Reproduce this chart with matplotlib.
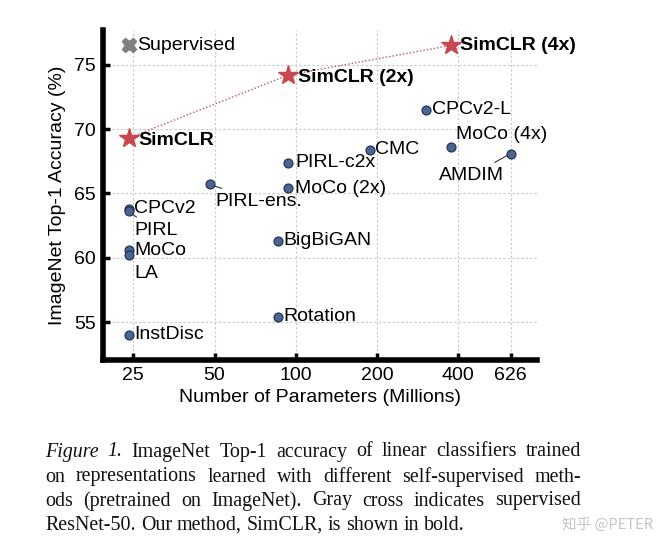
import matplotlib
matplotlib.use("Agg")
import matplotlib.pyplot as plt
import numpy as np

# ---- data ----
methods = ["CPCv2", "PIRL", "MoCo", "LA", "InstDisc", "PIRL-ens.", "PIRL-c2x",
           "MoCo (2x)", "BigBiGAN", "Rotation", "CMC", "CPCv2-L", "MoCo (4x)", "AMDIM"]
params = [24, 24, 24, 24, 24, 48, 94, 94, 86, 86, 188, 305, 375, 626]
acc = [63.8, 63.6, 60.6, 60.2, 54.0, 65.7, 67.4, 65.4, 61.3, 55.4, 68.4, 71.5, 68.6, 68.1]

simclr_names = ["SimCLR", "SimCLR (2x)", "SimCLR (4x)"]
simclr_params = [24, 94, 375]
simclr_acc = [69.3, 74.2, 76.5]

sup_name = "Supervised"
sup_params = 24
sup_acc = 76.5

xticks = [25, 50, 100, 200, 400, 626]
yticks = [55, 60, 65, 70, 75]

# label offsets in points (dx, dy) and whether a leader line is drawn
offsets = {
    "CPCv2": (4, 0, False), "PIRL": (4, -14, True), "MoCo": (4, 0, False),
    "LA": (4, -13, True), "InstDisc": (4, 0, False), "PIRL-ens.": (4, -12, True),
    "PIRL-c2x": (5, 0, False), "MoCo (2x)": (5, 0, False), "BigBiGAN": (4, 0, False),
    "Rotation": (4, 0, False), "CMC": (4, 0, False), "CPCv2-L": (4, 0, False),
    "MoCo (4x)": (4, 9, True), "AMDIM": (-5, -16, True),
}

plt.rcParams['font.family'] = ['Liberation Sans', 'DejaVu Sans']
FS = 14

fig = plt.figure(figsize=(6.59, 5.54), dpi=100)
ax = fig.add_axes([103/659, 1-360/554, (537-103)/659, (360-30)/554])

ax.set_xscale('log')
ax.set_xlim(19.3, 784)
ax.set_ylim(52.05, 77.7)

blue = '#4a6494'
edge = '#1f2d4a'
red = '#c9474f'

ax.plot(simclr_params, simclr_acc, linestyle=(0, (1, 1.5)), color='#b05a60', lw=1.0, zorder=2)
ax.plot(simclr_params, simclr_acc, linestyle='none', marker='*', markersize=15,
        color=red, markeredgecolor=red, zorder=4)
ax.plot([sup_params], [sup_acc], linestyle='none', marker='X', markersize=10.5,
        color='#808080', markeredgecolor='#808080', zorder=4)
ax.plot(params, acc, linestyle='none', marker='o', markersize=6.5,
        color=blue, markeredgecolor=edge, markeredgewidth=0.8, zorder=4)

for name, x, y in zip(methods, params, acc):
    dx, dy, line = offsets[name]
    ha = 'right' if dx < 0 else 'left'
    if line:
        ax.annotate(name, (x, y), xytext=(dx, dy), textcoords='offset points',
                    fontsize=FS, ha=ha, va='center',
                    arrowprops=dict(arrowstyle='-', color='#333333', lw=0.8,
                                    shrinkA=3, shrinkB=1))
    else:
        ax.annotate(name, (x, y), xytext=(dx, 0), textcoords='offset points',
                    fontsize=FS, ha=ha, va='center')

simclr_dy = [-1.5, -1.5, 0]
for name, x, y, d in zip(simclr_names, simclr_params, simclr_acc, simclr_dy):
    ax.annotate(name, (x, y), xytext=(7, d), textcoords='offset points',
                fontsize=FS, fontweight='bold', ha='left', va='center')
ax.annotate(sup_name, (sup_params, sup_acc), xytext=(6, 0), textcoords='offset points',
            fontsize=FS, ha='left', va='center')

ax.set_xticks(xticks)
ax.set_xticklabels([str(t) for t in xticks])
ax.xaxis.set_minor_locator(matplotlib.ticker.NullLocator())
ax.set_yticks(yticks)
ax.tick_params(axis='both', which='major', direction='in', length=5, width=2.5,
               labelsize=FS, pad=5, color='black')
for s in ['top', 'right']:
    ax.spines[s].set_visible(False)
for s in ['left', 'bottom']:
    ax.spines[s].set_linewidth(4)
ax.grid(True, which='major', linestyle=(0, (2, 2)), color='#c8c8c8', lw=0.8)
ax.set_axisbelow(True)

ax.set_xlabel("Number of Parameters (Millions)", fontsize=FS, labelpad=4)
ax.set_ylabel("ImageNet Top-1 Accuracy (%)", fontsize=FS, labelpad=6)

# ---- caption ----
cap_lines = [
    ["Figure 1.", "ImageNet Top-1 accuracy of linear classifiers trained"],
    ["on representations learned with different self-supervised meth-"],
    ["ods (pretrained on ImageNet).  Gray cross indicates supervised"],
    ["ResNet-50. Our method, SimCLR, is shown in bold."],
]
cap_y = [452, 477, 501, 525]
x0, x1 = 45, 581
CFS = 14.4
fig.canvas.draw()
renderer = fig.canvas.get_renderer()

for i, (parts, ypx) in enumerate(zip(cap_lines, cap_y)):
    words = []
    for j, p in enumerate(parts):
        style = 'italic' if (i == 0 and j == 0) else 'normal'
        for w in p.split():
            words.append((w, style))
    texts = []
    widths = []
    for w, style in words:
        t = fig.text(0, 0, w, fontsize=CFS, family='Liberation Serif', style=style,
                     va='center', ha='left', color='#111111')
        bb = t.get_window_extent(renderer=renderer)
        texts.append(t)
        widths.append(bb.width)
    total = sum(widths)
    space_nat = CFS * 100 / 72 * 0.25
    if i < 3:
        gap = (x1 - x0 - total) / (len(words) - 1)
    else:
        gap = space_nat
    x = x0
    for t, wdt in zip(texts, widths):
        t.set_position((x / 659, 1 - ypx / 554))
        x += wdt + gap

fig.text(562/659, 1 - 525/554, "知乎 @PETER", fontsize=10.5, color='#c4c4c4',
         family=['Noto Sans CJK SC', 'DejaVu Sans'], va='center', ha='left')

fig.savefig("out.png", dpi=100)
